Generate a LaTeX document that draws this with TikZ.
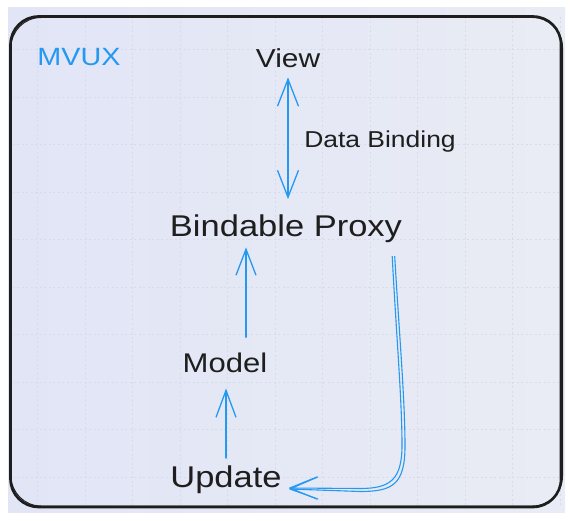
\documentclass[tikz,border=0pt]{standalone}
\usepackage{fontspec}
\newfontfamily\hand[FakeStretch=1.15]{Liberation Sans}
\usetikzlibrary{arrows.meta,calc}
\definecolor{bgA}{HTML}{E1E5F6}
\definecolor{bgB}{HTML}{E9ECF4}
\definecolor{gridc}{HTML}{D8DCEA}
\definecolor{arrowblue}{HTML}{2598F2}
\definecolor{ink}{HTML}{1E1E1E}
\tikzset{
  lbl/.style={inner sep=0pt, anchor=base, text=ink, font=\hand},
  flow/.style={draw=arrowblue, line width=1.3pt, line cap=round, line join=round},
  gridline/.style={draw=gridc, line width=0.45pt, dash pattern=on 2pt off 2.5pt},
  frame/.style={draw=ink, line width=2.6pt, rounded corners=28pt}
}
\begin{document}
\begin{tikzpicture}[x=1pt,y=-1pt]
\useasboundingbox (0,0) rectangle (570,521);
\fill[white] (0,0) rectangle (570,521);
% background panel
\shade[left color=bgA, right color=bgB] (8,8) rectangle (565,512);
% grid
\begin{scope}
\clip (12,18) rectangle (561,506);
\foreach \gx in {37.5,85,132.5,180,227.5,275,322.5,370,417.5,465,512.5,560}
  \draw[gridline] (\gx,8) -- (\gx,512);
\foreach \gy in {49.5,97,144.5,192,239.5,287,334.5,382,429.5,477}
  \draw[gridline] (8,\gy) -- (565,\gy);
\end{scope}
% frame
\draw[frame] (10.5,16.5) rectangle (561,507);
\draw[draw=ink, line width=1pt, rounded corners=30pt] (11,17.5) rectangle (562.5,506);

% labels
\node[lbl, text=arrowblue, font=\hand\fontsize{25}{25}\selectfont] (mvux) at (79,66) {MVUX};
\node[lbl, font=\hand\fontsize{26}{26}\selectfont] (view) at (288,68) {View};
\node[lbl, font=\hand\fontsize{23}{23}\selectfont] (db) at (380,148) {Data Binding};
\node[lbl, font=\hand\fontsize{30}{30}\selectfont] (proxy) at (286,237) {Bindable Proxy};
\node[lbl, font=\hand\fontsize{27}{27}\selectfont] (model) at (225,372) {Model};
\node[lbl, font=\hand\fontsize{30}{30}\selectfont] (update) at (226,487) {Update};

% View <-> Bindable Proxy
\draw[flow, {Straight Barb[length=27pt,width=21pt,line width=1.3pt]}-{Straight Barb[length=27pt,width=21pt,line width=1.3pt]},
      shorten <=9pt, shorten >=16pt] (view.south) -- (view.south |- proxy.north);
% Model -> Bindable Proxy
\draw[flow, -{Straight Barb[length=26pt,width=20pt,line width=1.3pt]}, shorten <=15pt, shorten >=4pt]
  ([xshift=21pt]model.north) -- ([xshift=21pt]model.north |- proxy.south);
% Update -> Model
\draw[flow, -{Straight Barb[length=27pt,width=20pt,line width=1.3pt]}, shorten <=7pt, shorten >=16pt]
  (update.north) -- (update.north |- model.south);
% Bindable Proxy -> Update (sketchy double stroke)
\coordinate (pstart) at ($(proxy.south east)+(-10,13)$);
\coordinate (uend) at ($(update.east)+(8,0)$);
\draw[flow, line width=1.1pt] (pstart) .. controls (396,330) and (402,400) .. (402,445)
   .. controls (402,480) and (390,488.5) .. (360,488.5) -- (uend |- 0,488);
\draw[flow, line width=1.1pt] ($(pstart)+(2.5,0)$) .. controls (399,330) and (405,400) .. (405,446)
   .. controls (405,485) and (392,491.5) .. (360,491.5) -- (uend |- 0,489)
   -- ++(28,-12) (uend |- 0,489) -- ++(28,10);
\draw[flow, line width=1.1pt] (uend |- 0,488) -- ++(27,-11) (uend |- 0,488) -- ++(27,11);
\end{tikzpicture}
\end{document}
